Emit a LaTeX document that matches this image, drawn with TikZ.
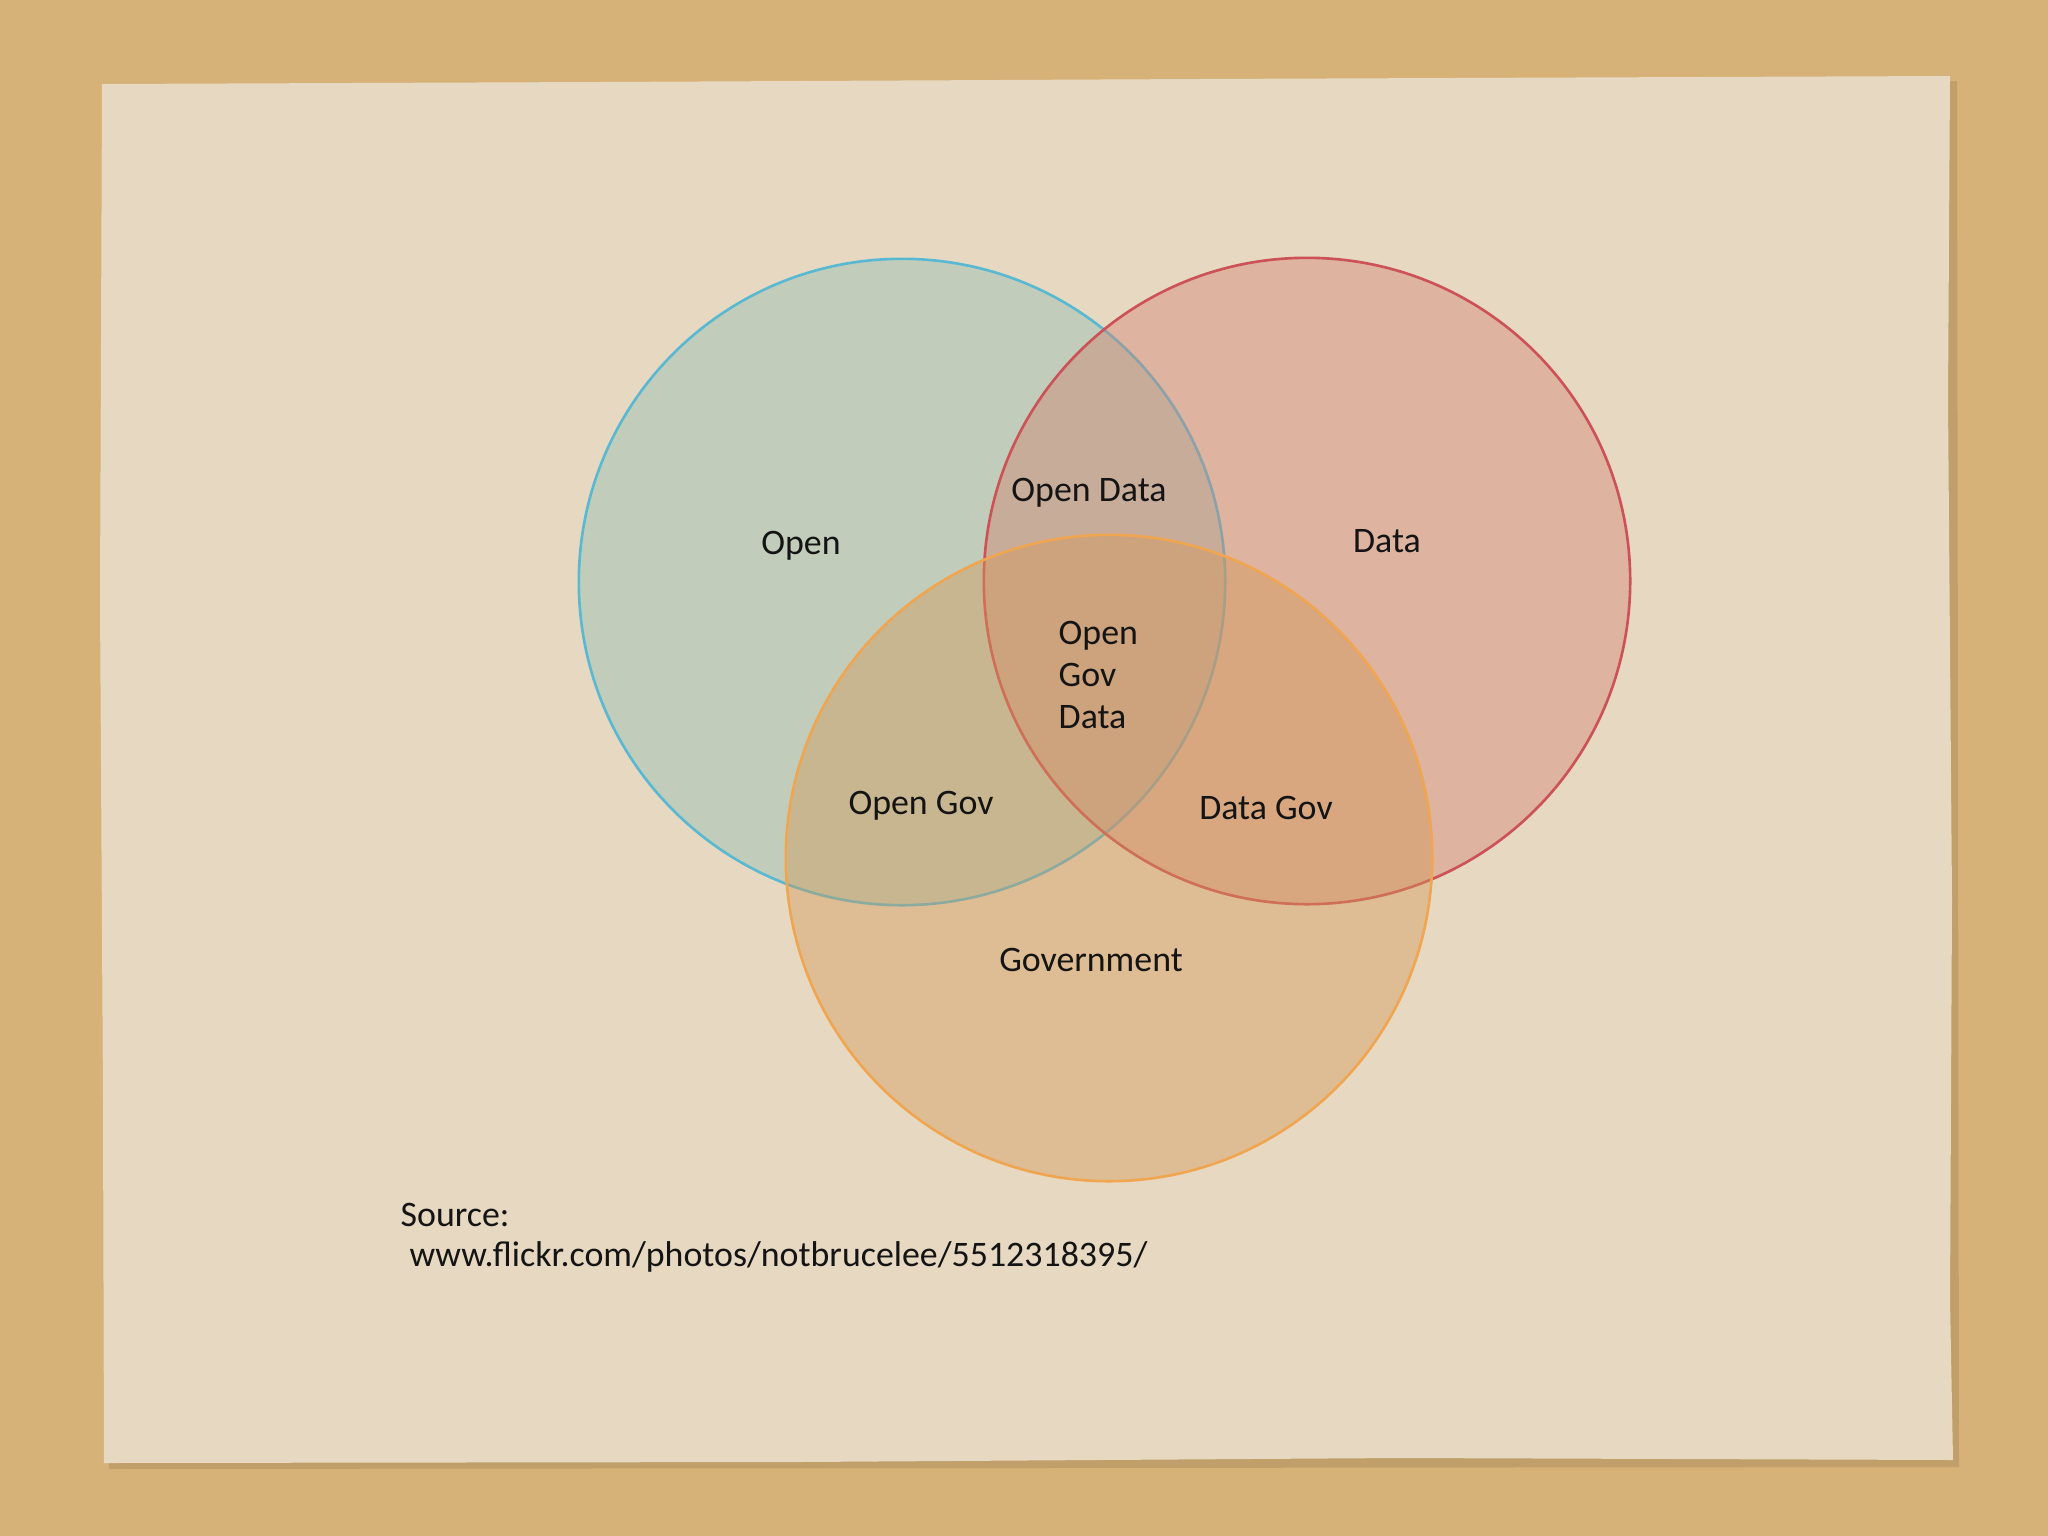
\documentclass[tikz,border=0pt]{standalone}
\usepackage{fontspec}
\setmainfont{Carlito}
\definecolor{sand}{RGB}{214,178,120}
\definecolor{paper}{RGB}{231,216,193}
\definecolor{openfill}{RGB}{145,188,177}
\definecolor{datafill}{RGB}{210,128,112}
\definecolor{govfill}{RGB}{210,152,87}
\definecolor{openline}{RGB}{90,185,210}
\definecolor{dataline}{RGB}{205,82,88}
\definecolor{govline}{RGB}{240,165,80}
\definecolor{ink}{RGB}{20,20,20}
\tikzset{
  venn/.style={circle, minimum size=6.46cm, inner sep=0pt, outer sep=0pt, line width=0.75pt, fill opacity=0.42, draw opacity=1},
  lbl/.style={font=\fontsize{10.2}{12.4}\selectfont, text=ink, inner sep=0pt},
}
\begin{document}
\begin{tikzpicture}[x=0.01cm, y=-0.01cm]
\useasboundingbox (0,0) rectangle (2048,1536);
% background
\fill[sand] (0,0) rectangle (2048,1536);
% paper shadow
\fill[black, opacity=0.10] (107,89) -- (1957,81) -- (1959,1467) -- (109,1469) -- cycle;
% paper
\fill[paper] (102,84) -- (600,82) -- (1200,79) -- (1950,76) -- (1948,400) -- (1952,900) -- (1950,1300) -- (1953,1460)
  -- (1400,1458) -- (800,1462) -- (104,1463) -- (103,1100) -- (100,600) -- cycle;
% circles
\node[venn, fill=openfill, draw=openline] (open) at (902,582) {};
\node[venn, fill=datafill, draw=dataline] (data) at (1307,581) {};
\node[venn, fill=govfill, draw=govline] (gov) at (1109,858) {};
% labels
\node[lbl] (lopen) at (801,546) {Open};
\node[lbl] (ldata) at (1387,541) {Data};
\node[lbl] (lopendata) at (1089,493) {Open Data};
\node[lbl, align=left, anchor=west] (lall) at (1058,675) {Open\\[-0.5pt]Gov\\[-0.5pt]Data};
\node[lbl] (lopengov) at (921,806) {Open Gov};
\node[lbl] (ldatagov) at (1266,808) {Data Gov};
\node[lbl] (lgov) at (1091,960) {Government};
\node[lbl, anchor=west] (src) at (400,1215) {Source:};
\node[lbl, anchor=west] (url) at (409,1257) {www.flickr.com/photos/notbrucelee/5512318395/};
\end{tikzpicture}
\end{document}
